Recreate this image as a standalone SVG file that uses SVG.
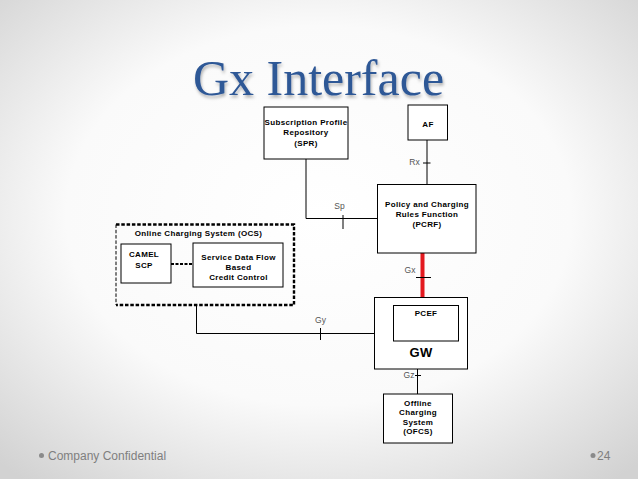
<svg xmlns="http://www.w3.org/2000/svg" width="638" height="479" viewBox="0 0 638 479">
<defs>
<radialGradient id="bg" cx="50%" cy="45%" r="72%">
<stop offset="0" stop-color="#ffffff"/>
<stop offset="0.55" stop-color="#fafafa"/>
<stop offset="1" stop-color="#d2d2d2"/>
</radialGradient>
<filter id="shadow" x="-10%" y="-20%" width="120%" height="150%">
<feDropShadow dx="1" dy="2.5" stdDeviation="1.6" flood-color="#000" flood-opacity="0.3"/>
</filter>
<style>
.box{fill:#fff;stroke:#000;stroke-width:1}
.lbl{font-family:"Liberation Sans",Arial,sans-serif;font-size:8px;font-weight:bold;fill:#000;text-anchor:middle;letter-spacing:0.35px}
.if{font-family:"Liberation Sans",Arial,sans-serif;font-size:8.5px;fill:#555;text-anchor:middle}
.ln{fill:none;stroke:#000;stroke-width:1}
.foot{font-family:"Liberation Sans",Arial,sans-serif;font-size:12px;fill:#7f7f7f}
</style>
</defs>
<rect x="0" y="0" width="638" height="479" fill="url(#bg)"/>
<text x="318.5" y="95" font-family="'Liberation Serif','Times New Roman',serif" font-size="50" fill="#2F5896" text-anchor="middle" filter="url(#shadow)">Gx Interface</text>

<g id="connectors">
<polyline class="ln" points="306,159 306,218.5 377,218.5"/>
<line class="ln" x1="343" y1="215" x2="343" y2="229"/>
<line class="ln" x1="427" y1="140" x2="427" y2="184"/>
<line class="ln" x1="423" y1="163" x2="430.5" y2="163"/>
<line x1="422.5" y1="253" x2="422.5" y2="297" stroke="#E3191F" stroke-width="4"/>
<line class="ln" x1="416" y1="277.5" x2="431" y2="277.5"/>
<polyline class="ln" points="196.5,305 196.5,333.5 374,333.5"/>
<line class="ln" x1="320.5" y1="328" x2="320.5" y2="340"/>
<line class="ln" x1="417.5" y1="369" x2="417.5" y2="394"/>
<line class="ln" x1="415" y1="375.5" x2="421" y2="375.5"/>
<line x1="171" y1="264" x2="193" y2="264" stroke="#000" stroke-width="2" stroke-dasharray="3 1.5"/>
<text class="if" x="339.5" y="208.5">Sp</text>
<text class="if" x="414.5" y="164.5">Rx</text>
<text class="if" x="410" y="273">Gx</text>
<text class="if" x="320.5" y="322.5">Gy</text>
<text class="if" x="409" y="378">Gz</text>
</g>

<g id="spr">
<rect class="box" x="264" y="107" width="84" height="52"/>
<text class="lbl" x="306" y="125">Subscription Profile</text>
<text class="lbl" x="306" y="135">Repository</text>
<text class="lbl" x="306" y="145.5">(SPR)</text>
</g>

<g id="af">
<rect class="box" x="408" y="105" width="39.5" height="35"/>
<text class="lbl" x="428" y="127">AF</text>
</g>

<g id="pcrf">
<rect class="box" x="377.5" y="184.5" width="98.5" height="68.5"/>
<text class="lbl" x="427" y="207">Policy and Charging</text>
<text class="lbl" x="427" y="217">Rules Function</text>
<text class="lbl" x="427" y="227">(PCRF)</text>
</g>

<g id="ocs">
<path d="M116,224.5 H294 V305 H116" fill="none" stroke="#000" stroke-width="2.4" stroke-dasharray="3.5 1.8"/>
<line x1="116" y1="224.5" x2="116" y2="305" stroke="#000" stroke-width="1" stroke-dasharray="3.5 1.8"/>
<text class="lbl" x="198.5" y="236">Online Charging System (OCS)</text>
</g>

<g id="camel">
<rect class="box" x="121" y="244" width="50" height="39"/>
<text class="lbl" x="144" y="257">CAMEL</text>
<text class="lbl" x="144" y="267.5">SCP</text>
</g>

<g id="sdf">
<rect class="box" x="193" y="243" width="90" height="44"/>
<text class="lbl" x="238.5" y="260">Service Data Flow</text>
<text class="lbl" x="238.5" y="270">Based</text>
<text class="lbl" x="238.5" y="280">Credit Control</text>
</g>

<g id="gw">
<rect class="box" x="374.5" y="297.5" width="93" height="71.5"/>
<rect class="box" x="393.5" y="305.5" width="65" height="35.5"/>
<text class="lbl" x="426" y="316">PCEF</text>
<text x="421" y="357" font-family="'Liberation Sans',Arial,sans-serif" font-size="13" font-weight="bold" text-anchor="middle" letter-spacing="0.4">GW</text>
</g>

<g id="ofcs">
<rect class="box" x="383.5" y="394" width="69" height="49"/>
<text class="lbl" x="418" y="405.5">Offline</text>
<text class="lbl" x="418" y="415">Charging</text>
<text class="lbl" x="418" y="424.5">System</text>
<text class="lbl" x="418" y="434">(OFCS)</text>
</g>

<g id="footer">
<circle cx="41.5" cy="455.5" r="2.5" fill="#8a8a8a"/>
<text class="foot" x="48" y="460">Company Confidential</text>
<circle cx="593" cy="455.5" r="2.5" fill="#8a8a8a"/>
<text class="foot" x="597" y="460">24</text>
</g>
</svg>
